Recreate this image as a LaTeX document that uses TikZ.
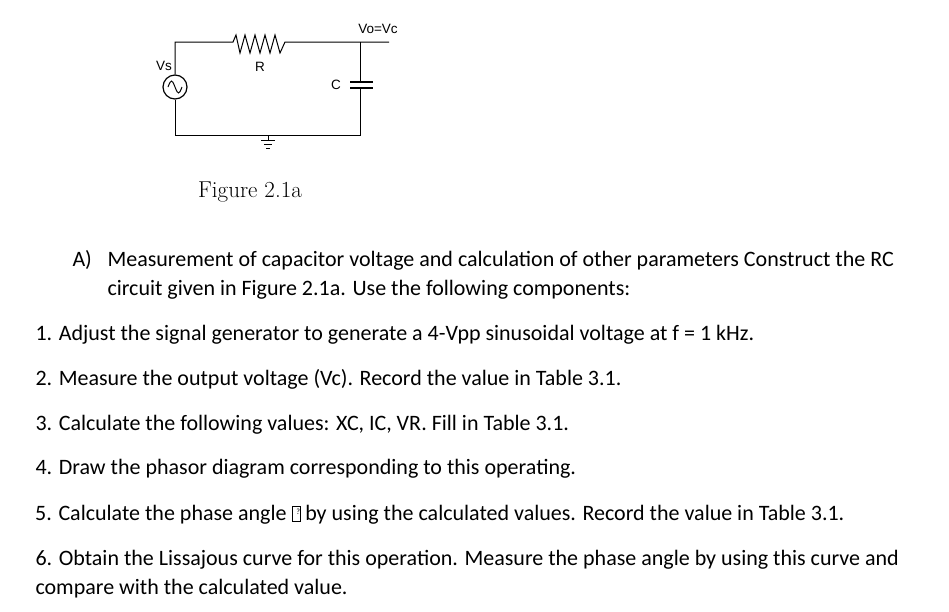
\documentclass[tikz,border=0pt]{standalone}
\usepackage{fontspec}
\setmainfont{Carlito}
\newfontfamily\lab{Liberation Sans}
\newfontfamily\lm{Latin Modern Roman}
\begin{document}
\begin{tikzpicture}[x=1pt,y=-1pt,line width=1pt,
  txt/.style={anchor=base west,inner sep=0,font=\fontsize{22}{26}\selectfont},
  clab/.style={inner sep=0,font=\lab\fontsize{13.5}{15}\selectfont}]
\useasboundingbox[fill=white] (0,0) rectangle (949,611);
% circuit
\coordinate (tl) at (175,42); \coordinate (tr) at (360,42);
\coordinate (bl) at (175,135); \coordinate (br) at (360,135);
\coordinate (out) at (389,42);
\node[circle,draw,line width=1.2pt,minimum size=24,inner sep=0] (src) at (175,87) {};
\draw (src.center)+(-7,0) .. controls +(3,-8) and +(-3,-8) .. +(0,0) .. controls +(3,8) and +(-3,8) .. +(7,0);
\draw (src.north) -- (tl) -- (233,42) -- (236,35) -- (240,53) -- (245,35) -- (250,53) -- (255,35) -- (260,53) -- (265,35) -- (270,53) -- (275,35) -- (280,53) -- (285,42) -- (tr) -- (out);
\draw (tr) -- (360,82); \draw (360,88) -- (br) -- (bl) -- (src.south);
\draw[line width=1.4pt] (350,82) -- (373,82) (350,88) -- (373,88);
\draw (268,135) -- (268,140);
\draw (261,140) -- (275,140) (264,144) -- (272,144) (266,148) -- (270,148);
\node[clab] (vs) at (164,66) {Vs};
\node[clab] (r) at (260,67) {R};
\node[clab] (c) at (336,85) {C};
\node[clab] (vo) at (378,29) {Vo=Vc};
\node[inner sep=0,font=\lm\fontsize{23}{26}\selectfont] (fig) at (250,192) {Figure 2.1a};
% text
\node[txt] (a) at (72,266) {A)};
\node[txt] (l1) at (107,266) {Measurement of capacitor voltage and calculation of other parameters Construct the RC};
\node[txt] (l2) at (107,295) {circuit given in Figure 2.1a. Use the following components:};
\node[txt] (s1) at (35,340) {1. Adjust the signal generator to generate a 4-Vpp sinusoidal voltage at f = 1 kHz.};
\node[txt] (s2) at (35,385) {2. Measure the output voltage (Vc). Record the value in Table 3.1.};
\node[txt] (s3) at (35,430) {3. Calculate the following values: XC, IC, VR. Fill in Table 3.1.};
\node[txt] (s4) at (35,474) {4. Draw the phasor diagram corresponding to this operating.};
\node[txt] (s5) at (35,520) {5. Calculate the phase angle \raisebox{-0.5pt}{\tikz[baseline]\draw[line width=0.7pt] (0,-1pt) rectangle (8pt,14pt) node[midway,font=\fontsize{8}{8}\selectfont,inner sep=0]{?};} by using the calculated values. Record the value in Table 3.1.};
\node[txt] (s6) at (35,565) {6. Obtain the Lissajous curve for this operation. Measure the phase angle by using this curve and};
\node[txt] (s7) at (35,594) {compare with the calculated value.};
\end{tikzpicture}
\end{document}
